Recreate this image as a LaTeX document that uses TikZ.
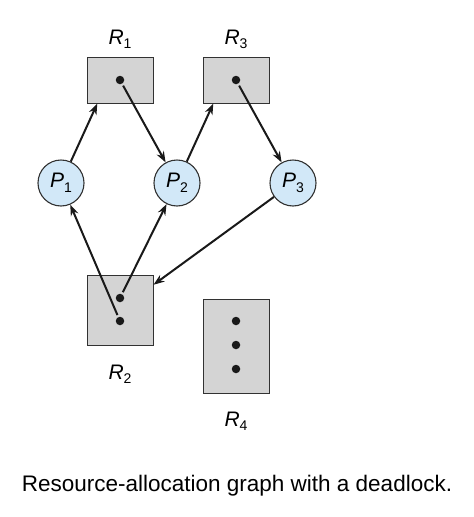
\documentclass[tikz,border=0pt]{standalone}
\usepackage{fontspec}
\setmainfont{Liberation Sans}
\usepackage{tikz}
\usetikzlibrary{positioning,arrows.meta}
\definecolor{procfill}{RGB}{210,232,248}
\definecolor{resfill}{RGB}{212,212,212}
\definecolor{rimgray}{RGB}{50,50,50}
\newcommand{\Pn}[1]{\textit{P}\raisebox{-4.5pt}{\fontsize{14}{14}\selectfont #1}}
\newcommand{\Rn}[1]{\textit{R}\raisebox{-4.5pt}{\fontsize{14}{14}\selectfont #1}}

\begin{document}
\begin{tikzpicture}[
  x=1pt,y=-1pt,
  proc/.style={circle, draw=rimgray, line width=1.1pt, fill=procfill,
    minimum size=46pt, inner sep=0pt, font=\fontsize{21}{24}\selectfont},
  res/.style={draw=rimgray, line width=1pt, fill=resfill, inner sep=0pt,
    minimum width=66pt},
  tok/.style={circle, fill=black!90, minimum size=8.5pt, inner sep=0pt},
  lbl/.style={anchor=base, font=\fontsize{21}{24}\selectfont},
  edge/.style={-{Stealth[length=11pt,width=8pt]}, line width=2pt, black!90},
  caption/.style={font=\fontsize{22.5}{27}\selectfont}
]
\useasboundingbox (0,0) rectangle (474,517);

% resources
\node[res, minimum height=46pt] (r1) at (120,80) {};
\node[res, minimum height=46pt] (r3) at (236,80) {};
\node[res, minimum height=70pt] (r2) at (120,310) {};
\node[res, minimum height=94pt] (r4) at (236,346) {};

% instances
\node[tok] (d1) at (120,80) {};
\node[tok] (d3) at (236,80) {};
\node[tok] (d2a) at (120,298) {};
\node[tok] (d2b) at (120,321) {};
\node[tok] (d4a) at (236,321) {};
\node[tok] (d4b) at (236,345) {};
\node[tok] (d4c) at (236,369) {};

% resource labels
\node[lbl] (l1) at (120,44) {\Rn{1}};
\node[lbl] (l3) at (236,44) {\Rn{3}};
\node[lbl] (l2) at (120,379) {\Rn{2}};
\node[lbl] (l4) at (236,426) {\Rn{4}};

% processes
\node[proc] (p1) at (61,183) {\Pn{1}};
\node[proc] (p2) at (177,183) {\Pn{2}};
\node[proc] (p3) at (293,183) {\Pn{3}};

% request and assignment edges
\draw[edge] (p1) -- (r1.-134);
\draw[edge, shorten <=2pt] (d1) -- (p2);
\draw[edge] (p2) -- (r3.-134);
\draw[edge, shorten <=2pt] (d3) -- (p3);
\draw[edge] (p3) -- (r2.37);
\draw[edge, shorten <=2pt] (d2a) -- (p2);
\draw[edge, shorten <=2pt] (d2b) -- (p1);

\node[caption] (cap) at (237,486) {Resource-allocation graph with a deadlock.};

\end{tikzpicture}
\end{document}
